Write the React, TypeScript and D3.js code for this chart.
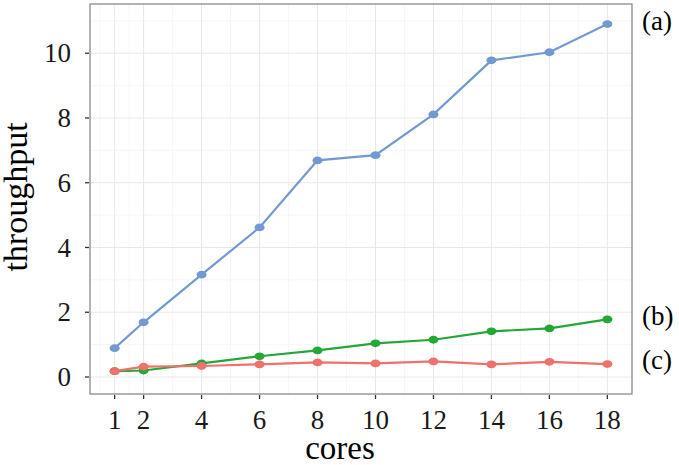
import React from "react";
import * as d3 from "d3";

const cores = [1, 2, 4, 6, 8, 10, 12, 14, 16, 18];
const seriesA = [0.89, 1.69, 3.16, 4.62, 6.69, 6.85, 8.11, 9.78, 10.03, 10.9];
const seriesB = [0.18, 0.2, 0.42, 0.64, 0.82, 1.04, 1.15, 1.41, 1.5, 1.78];
const seriesC = [0.18, 0.32, 0.34, 0.39, 0.45, 0.42, 0.48, 0.39, 0.47, 0.4];
const seriesLabels = ["(a)", "(b)", "(c)"];
const seriesColors = ["#7399d3", "#23a736", "#ef716c"];
const xTicks = [1, 2, 4, 6, 8, 10, 12, 14, 16, 18];
const xMinor = [0.5, 1.5, 3, 5, 7, 9, 11, 13, 15, 17];
const yTicks = [0, 2, 4, 6, 8, 10];
const yMinor = [1, 3, 5, 7, 9, 11];

const W = 679;
const H = 465;
const panel = { left: 90, right: 632, top: 4, bottom: 394 };
const FONT = "'Liberation Serif', 'Times New Roman', serif";

export default function App() {
  const x = d3.scaleLinear().domain([0.15, 18.85]).range([panel.left, panel.right]);
  const y = d3.scaleLinear().domain([-0.525, 11.52]).range([panel.bottom, panel.top]);
  const allSeries = [seriesA, seriesB, seriesC];
  const line = d3
    .line<number>()
    .x((_, i) => x(cores[i]))
    .y((d) => y(d));

  return (
    <svg
      width={W}
      height={H}
      style={{ position: "absolute", left: 0, top: 0, background: "#fff" }}
      fontFamily={FONT}
    >
      <rect x={0} y={0} width={W} height={H} fill="#fff" />
      {/* minor grid */}
      {xMinor.map((v) => (
        <line key={"xm" + v} x1={x(v)} x2={x(v)} y1={panel.top} y2={panel.bottom} stroke="#f4f4f4" strokeWidth={0.8} />
      ))}
      {yMinor.map((v) => (
        <line key={"ym" + v} x1={panel.left} x2={panel.right} y1={y(v)} y2={y(v)} stroke="#f4f4f4" strokeWidth={0.8} />
      ))}
      {/* major grid */}
      {xTicks.map((v) => (
        <line key={"xg" + v} x1={x(v)} x2={x(v)} y1={panel.top} y2={panel.bottom} stroke="#e8e8e8" strokeWidth={1} />
      ))}
      {yTicks.map((v) => (
        <line key={"yg" + v} x1={panel.left} x2={panel.right} y1={y(v)} y2={y(v)} stroke="#e8e8e8" strokeWidth={1} />
      ))}
      {/* series */}
      {allSeries.map((s, k) => (
        <g key={"s" + k}>
          <path d={line(s) || ""} fill="none" stroke={seriesColors[k]} strokeWidth={2.2} />
          {s.map((v, i) => (
            <ellipse key={i} cx={x(cores[i])} cy={y(v)} rx={5} ry={3.9} fill={seriesColors[k]} />
          ))}
        </g>
      ))}
      {/* panel border */}
      <rect
        x={panel.left}
        y={panel.top}
        width={panel.right - panel.left}
        height={panel.bottom - panel.top}
        fill="none"
        stroke="#808080"
        strokeWidth={1.2}
      />
      {/* y axis */}
      {yTicks.map((v) => (
        <g key={"yt" + v}>
          <line x1={panel.left - 5} x2={panel.left - 1} y1={y(v)} y2={y(v)} stroke="#333" strokeWidth={1.3} />
          <text x={71} y={y(v)} dy="0.34em" textAnchor="end" fontSize={27} fill="#1a1a1a">
            {v}
          </text>
        </g>
      ))}
      {/* x axis */}
      {xTicks.map((v) => (
        <g key={"xt" + v}>
          <line x1={x(v)} x2={x(v)} y1={panel.bottom + 1} y2={panel.bottom + 5} stroke="#333" strokeWidth={1.3} />
          <text x={x(v)} y={429} textAnchor="middle" fontSize={27} fill="#1a1a1a">
            {v}
          </text>
        </g>
      ))}
      <text x={340} y={459} textAnchor="middle" fontSize={33} fill="#000">
        cores
      </text>
      <text transform="translate(27,197) rotate(-90)" textAnchor="middle" fontSize={34} fill="#000">
        throughput
      </text>
      {/* series labels */}
      {allSeries.map((s, k) => (
        <text key={"l" + k} x={642} y={y(s[s.length - 1]) - 4} dy="0.35em" fontSize={27} fill="#000">
          {seriesLabels[k]}
        </text>
      ))}
    </svg>
  );
}
